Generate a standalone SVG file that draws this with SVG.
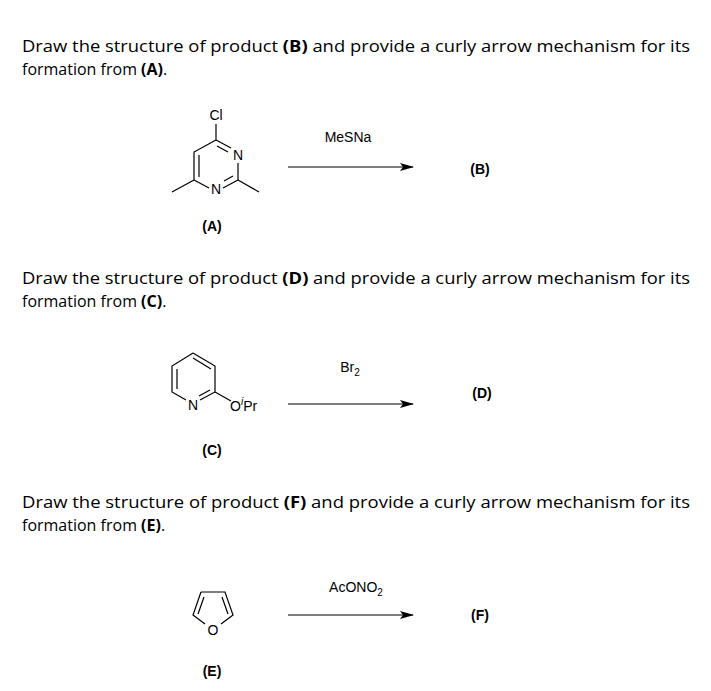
<svg xmlns="http://www.w3.org/2000/svg" width="711" height="691" viewBox="0 0 711 691">
<style>
.t{font-family:"Open Sans","Liberation Sans",sans-serif;font-size:16px;fill:#000}
.a{font-family:"Liberation Sans",Arial,sans-serif;font-size:14px;fill:#000}
.b{stroke:#000;stroke-width:1.2;fill:none}
.l{font-family:"Liberation Sans",Arial,sans-serif;font-size:14px;font-weight:bold;fill:#000}
</style>
<defs><marker id="ah" markerWidth="14" markerHeight="8" refX="13" refY="4" orient="auto" markerUnits="userSpaceOnUse"><path d="M0,0 L14,4 L0,8 L3,4 Z" fill="#000"/></marker></defs>
<rect width="711" height="691" fill="#fff"/>
<g id="q1text">
<text class="t" x="22" y="52" textLength="668" lengthAdjust="spacingAndGlyphs">Draw the structure of product <tspan font-weight="bold">(B)</tspan> and provide a curly arrow mechanism for its</text>
<text class="t" x="22" y="75">formation from <tspan font-weight="bold">(A)</tspan>.</text>
</g>
<g id="A">
<path class="b" d="M216,140 L216,124 M216,140 L231,148 M238,163 L238,180 M238,180 L223,188 M209,188 L194,180 M194,180 L194,152 L216,140 M199,177 L199,155 M217,146 L228,152 M233,176 L224,181 M194,180 L172,192 M238,180 L259,192"/>
<text class="a" x="216" y="120" text-anchor="middle">Cl</text>
<text class="a" x="238" y="160" text-anchor="middle">N</text>
<text class="a" x="216" y="194" text-anchor="middle">N</text>
<text class="l" x="212" y="231" text-anchor="middle">(A)</text>
</g>
<g id="B"><text class="l" x="480" y="174" text-anchor="middle">(B)</text></g>
<g id="q2text">
<text class="t" x="22" y="284" textLength="668" lengthAdjust="spacingAndGlyphs">Draw the structure of product <tspan font-weight="bold">(D)</tspan> and provide a curly arrow mechanism for its</text>
<text class="t" x="22" y="307">formation from <tspan font-weight="bold">(C)</tspan>.</text>
</g>
<g id="C">
<path class="b" d="M193,353 L172,366 L172,392 L186,400 M200,400 L215,392 L215,366 L193,353 M177,369 L177,389 M210,390 L199,396 M211,369 L193,358 M215,392 L231,401"/>
<text class="a" x="193" y="410" text-anchor="middle">N</text>
<text class="a" x="230" y="411">O<tspan font-size="10" font-style="italic" dy="-6">i</tspan><tspan dy="6">Pr</tspan></text>
<text class="l" x="212" y="455" text-anchor="middle">(C)</text>
</g>
<g id="D"><text class="l" x="482" y="398" text-anchor="middle">(D)</text></g>
<g id="q3text">
<text class="t" x="22" y="508" textLength="668" lengthAdjust="spacingAndGlyphs">Draw the structure of product <tspan font-weight="bold">(F)</tspan> and provide a curly arrow mechanism for its</text>
<text class="t" x="22" y="531">formation from <tspan font-weight="bold">(E)</tspan>.</text>
</g>
<g id="E">
<path class="b" d="M201,592 L225,592 L233,615 L221,624 M205,624 L193,615 L201,592 M204,597 L198,614 M222,597 L228,614"/>
<text class="a" x="213" y="635" text-anchor="middle">O</text>
<text class="l" x="212" y="676" text-anchor="middle">(E)</text>
</g>
<g id="F"><text class="l" x="480" y="620" text-anchor="middle">(F)</text></g>
<g id="connectors">
<line class="b" x1="288" y1="167" x2="413" y2="167" marker-end="url(#ah)"/>
<text class="a" x="348" y="142" text-anchor="middle">MeSNa</text>
<line class="b" x1="288" y1="404" x2="413" y2="404" marker-end="url(#ah)"/>
<text class="a" x="350" y="372" text-anchor="middle">Br<tspan font-size="10" dy="4">2</tspan></text>
<line class="b" x1="288" y1="615" x2="413" y2="615" marker-end="url(#ah)"/>
<text class="a" x="356" y="592" text-anchor="middle">AcONO<tspan font-size="10" dy="4">2</tspan></text>
</g>
</svg>
